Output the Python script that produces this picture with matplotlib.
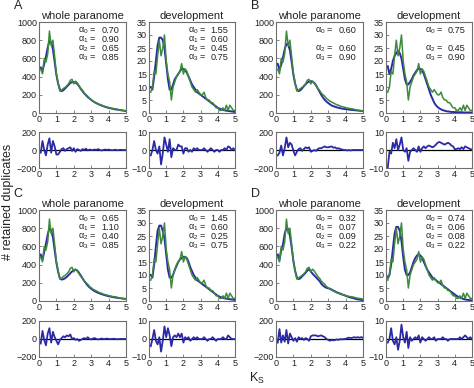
import numpy as np
import matplotlib
matplotlib.use("Agg")
import matplotlib.pyplot as plt

plt.rcParams['font.family'] = ['Liberation Sans', 'DejaVu Sans']
plt.rcParams['mathtext.fontset'] = 'custom'
plt.rcParams['mathtext.rm'] = 'Liberation Sans'
plt.rcParams['mathtext.it'] = 'Liberation Sans'

# --------------------------------------------------------------------------------------------------
# DATA (Ks bins 0.1 .. 5.0)
ks = np.round(np.arange(1, 51) * 0.1, 1)

# observed distributions (green), same in every panel
whole_obs = [480, 430, 600, 560, 650, 900, 740, 800, 620, 430,
             330, 240, 250, 270, 280, 300, 320, 360, 370, 320,
             350, 330, 300, 270, 250, 220, 200, 185, 160, 145,
             130, 120, 110, 100, 90, 85, 75, 70, 65, 60,
             55, 50, 48, 45, 40, 35, 30, 28, 25, 20]
dev_obs = [8, 10, 16, 15, 22, 28, 22, 25, 30, 20,
           15, 12, 5, 10, 12, 14, 15, 16, 19, 15,
           17, 16, 14, 12, 10, 9, 8, 9, 8, 7,
           7, 8, 6, 5, 5, 4, 4, 3, 2, 2,
           1, 1, 2, 1, 3, 1, 3, 2, 1, 1]

# model fits (blue)
whole_fit_A = [500, 460, 540, 620, 720, 790, 780, 700, 560, 420,
               320, 260, 240, 250, 270, 290, 310, 330, 340, 340,
               335, 320, 295, 265, 240, 215, 195, 175, 160, 145,
               130, 118, 108, 98, 90, 82, 75, 68, 62, 57,
               52, 48, 44, 40, 37, 34, 31, 28, 25, 22]
whole_fit_B = [540, 470, 530, 610, 700, 760, 750, 690, 560, 420,
               320, 260, 240, 250, 270, 295, 315, 335, 345, 350,
               345, 330, 305, 270, 235, 200, 170, 145, 125, 110,
               95, 82, 75, 68, 62, 57, 52, 48, 45, 42,
               40, 37, 35, 33, 31, 29, 27, 25, 23, 21]
whole_fit_C = [510, 450, 540, 630, 730, 800, 780, 700, 560, 420,
               320, 250, 235, 240, 250, 265, 285, 305, 325, 340,
               345, 335, 310, 280, 250, 220, 195, 170, 150, 135,
               120, 108, 98, 90, 82, 75, 69, 63, 58, 53,
               49, 45, 41, 38, 35, 32, 30, 27, 25, 22]
whole_fit_D = [510, 450, 560, 620, 740, 800, 790, 720, 590, 440,
               330, 260, 240, 250, 270, 290, 310, 335, 350, 325,
               300, 280, 260, 240, 220, 190, 170, 155, 145, 140,
               135, 125, 115, 105, 95, 88, 80, 72, 65, 58,
               50, 43, 38, 33, 28, 22, 18, 15, 12, 10]
dev_fit_A = [10, 9, 14, 20, 26, 29, 29, 28, 25, 19,
             13, 9, 9, 11, 13, 14, 15, 16, 17, 17,
             16.5, 15.5, 14, 12.5, 11, 10, 9, 8, 7.5, 7,
             6.5, 6, 5.5, 5, 4.5, 4, 3.5, 3, 2.5, 2,
             1.7, 1.4, 1.2, 1, 0.9, 0.8, 0.7, 0.6, 0.5, 0.4]
dev_fit_B = [18, 15, 17, 20, 22, 23, 24, 23, 21, 17,
             13, 11, 11, 12, 13, 14.5, 15.5, 16.5, 17, 17,
             16.5, 15, 13, 11, 9, 7, 5.5, 4, 3, 2.3,
             1.8, 1.4, 1.1, 0.9, 0.7, 0.6, 0.5, 0.4, 0.4, 0.3,
             0.3, 0.3, 0.3, 0.3, 0.2, 0.2, 0.2, 0.2, 0.2, 0.2]
dev_fit_C = [10, 9, 14, 21, 27, 29, 29, 27, 24, 18,
             12, 9, 9, 10, 12, 13.5, 15, 16, 16.5, 17,
             17, 16.5, 15, 13, 11.5, 10, 9, 8, 7.5, 7,
             6.5, 6, 5.5, 5, 4.5, 4, 3.5, 3, 2.5, 2,
             1.7, 1.4, 1.2, 1, 0.9, 0.8, 0.7, 0.6, 0.5, 0.4]
dev_fit_D = [9, 10, 14, 20, 26, 28.5, 28.5, 27, 23, 17,
             12, 10, 10, 11, 13, 15, 16.5, 17.5, 18, 17.5,
             16.5, 15, 13.5, 12, 11, 10, 9, 8.5, 8, 7.5,
             7, 6.5, 6, 5.5, 5, 4.5, 4, 3.5, 3, 2.5,
             2, 1.6, 1.3, 1, 0.8, 0.6, 0.5, 0.4, 0.3, 0.2]

# residuals (lower panels)
whole_res_A = [-30, 100, 0, -60, 60, 130, -30, 100, 40, -50,
               -50, -20, 10, 20, -10, 10, 20, 30, -10, 20,
               -20, 10, 0, -10, 10, 0, 15, -5, 5, 0,
               0, 5, 0, 10, 0, -5, 0, 5, 0, 5,
               0, -3, 0, 3, -3, 0, 2, 0, 0, 0]
whole_res_B = [-60, -30, 50, -60, 20, 140, 30, 80, 60, -10,
               -60, -20, 10, 20, -10, 10, 30, 20, 30, -20,
               -10, 0, -10, 10, 20, 20, 30, 40, 30, 30,
               35, 40, 25, 30, 15, 20, 10, 5, 0, 0,
               -5, 0, -5, 0, 0, 0, 0, 0, 0, 0]
whole_res_C = [-50, 90, -10, -70, 60, 120, -40, 80, 20, -20,
               -60, -10, 10, 30, 20, 40, 30, 50, 0, 10,
               -10, 0, -20, -10, 0, 10, 0, 20, 0, -5,
               5, 10, 0, -5, 0, 5, 0, 0, 5, 0,
               0, 0, 3, 0, -3, 0, 0, 0, 0, 0]
whole_res_D = [-40, 110, -40, 40, -30, 100, -50, 60, 20, -20,
               10, -30, 20, 0, 10, -10, 10, 0, -20, 30,
               40, 40, 40, 30, 35, 40, 30, 20, 0, -10,
               -20, -10, -15, -10, -5, -10, 0, -5, 0, 0,
               10, 15, 10, 15, 20, 15, 20, 15, 20, 15]
dev_res_A = [-3, 0, 5, 0, -2, 2, -8, -2, 7, 3,
             -1, 6, -4, 1, 0, 0, 3, 2, 2, -2,
             1, 1, -1, 0, -1, 1, 0, 1, 0, 0,
             0, 1, 0, -1, 0, 1, 0, -1, 0, 0,
             -1, 0, 0, 1, 0, 2, 1.5, 0, 1, 0]
dev_res_B = [-10, -1, -2, 4, 1, 6, 0, 3, 7, 0,
             -1, 1, -6, -1, 0, 1, 0, -1, 2, -1,
             1, 2, 1, 2, 2.5, 2, 1.5, 2, 3, 4,
             4.5, 4, 3.5, 3, 3.5, 4, 3.5, 2.5, 2, 0.5,
             0.5, 1, 0.5, 1.5, 0.5, 2, 1.5, 1, 0.5, 0.3]
dev_res_C = [-4, 0, 5, -1, -3, 1, -7, -1, 7, 1,
             6, 2, -4, 1, 2, 1, 3, 1, 3, -2,
             1, 0, 1, -1, 0, 1, 0, 1, 0, 0,
             0, 1, 0, -1, 0, 0, 1, 0, -1, 0,
             0, 0, 1, 0, 0, 2, 1, 0, 0, 0]
dev_res_D = [-2, 0, 6, -1, -3, 1, -6, -1, 8, 1,
             -2, 4, -5, 1, -1, 0, 1, 0, 2, -2,
             1, 0, -1, 0, 1, 0, 0, 1, -1, 0,
             0, 0, 1, 0, 0, -1, 0, 0, 0, 0,
             0, 0, 1, 0, 1, 2, 1, 0, 1, 0]

# fitted parameters shown in each main panel ('' = parameter not listed)
whole_alpha = {"A": ["0.70", "0.90", "0.65", "0.85"],
               "B": ["0.60", "", "0.60", "0.90"],
               "C": ["0.65", "1.10", "0.40", "0.85"],
               "D": ["0.32", "0.07", "0.09", "0.22"]}
dev_alpha = {"A": ["1.55", "0.60", "0.45", "0.75"],
             "B": ["0.75", "", "0.45", "0.90"],
             "C": ["1.45", "0.60", "0.25", "0.75"],
             "D": ["0.74", "0.06", "0.08", "0.22"]}

whole_fits = {"A": whole_fit_A, "B": whole_fit_B, "C": whole_fit_C, "D": whole_fit_D}
dev_fits = {"A": dev_fit_A, "B": dev_fit_B, "C": dev_fit_C, "D": dev_fit_D}
whole_res = {"A": whole_res_A, "B": whole_res_B, "C": whole_res_C, "D": whole_res_D}
dev_res = {"A": dev_res_A, "B": dev_res_B, "C": dev_res_C, "D": dev_res_D}

# --------------------------------------------------------------------------------------------------
# LAYOUT (pixel boxes of the 474x388 figure)
W, H = 474, 388
GREEN = "#3d8a3d"
BLUE = "#2a2aa6"
GREY = "#6e6e6e"
INK = "#222222"

fig = plt.figure(figsize=(W / 100, H / 100), dpi=100)


def box(x0, x1, y0, y1):
    return [x0 / W, 1 - y1 / H, (x1 - x0) / W, (y1 - y0) / H]


def style(ax):
    for s in ax.spines.values():
        s.set_color(GREY)
        s.set_linewidth(0.8)
    ax.tick_params(direction="in", length=2, width=0.6, color=GREY,
                   labelsize=6.5, pad=1.5, labelcolor=INK)
    ax.set_xlim(0, 5)
    ax.set_xticks(range(6))


panel_x = {"A": 39, "B": 276, "C": 39, "D": 276}
panel_y = {"A": (22, 113, 132, 168), "B": (22, 113, 132, 168),
           "C": (210, 301, 321, 357), "D": (210, 301, 321, 357)}
letter_pos = {"A": (18, 6), "B": (255, 6), "C": (18, 194), "D": (255, 194)}

for p in ["A", "B", "C", "D"]:
    x0 = panel_x[p]
    my0, my1, ry0, ry1 = panel_y[p]
    fig.text(letter_pos[p][0] / W, 1 - letter_pos[p][1] / H, p,
             fontsize=9, ha="center", va="center", color=INK)

    for k, (xa, xb) in enumerate([(x0, x0 + 87), (x0 + 110, x0 + 196)]):
        if k == 0:
            obs, fit, res, alph = whole_obs, whole_fits[p], whole_res[p], whole_alpha[p]
            ymax, ystep, rlim, title = 1000, 200, 200, "whole paranome"
        else:
            obs, fit, res, alph = dev_obs, dev_fits[p], dev_res[p], dev_alpha[p]
            ymax, ystep, rlim, title = 35, 5, 10, "development"

        # main panel
        ax = fig.add_axes(box(xa, xb, my0, my1))
        ax.plot(ks, fit, color=BLUE, lw=1.4)
        ax.plot(ks, obs, color=GREEN, lw=1.1)
        ax.set_ylim(0, ymax)
        ax.set_yticks(np.arange(0, ymax + 1, ystep))
        style(ax)
        ax.set_title(title, fontsize=8, pad=2, color=INK)
        for i, val in enumerate(alph):
            if val == "":
                continue
            yy = 0.905 - 0.10 * i
            ax.text(0.45, yy, r"$\alpha_%d$ =" % i, transform=ax.transAxes,
                    fontsize=6.6, ha="left", va="center", color=INK)
            ax.text(0.92, yy, val, transform=ax.transAxes,
                    fontsize=6.6, ha="right", va="center", color=INK)

        # residual panel
        rx = fig.add_axes(box(xa, xb, ry0, ry1))
        rx.axhline(0, color="black", lw=0.9)
        rx.plot(ks, res, color=BLUE, lw=1.3)
        rx.set_ylim(-rlim, rlim)
        rx.set_yticks([-rlim, 0, rlim])
        style(rx)

fig.text(0.016, 0.48, "# retained duplicates", rotation=90, fontsize=9,
         ha="center", va="center", color=INK)
fig.text(257 / W, 1 - 378 / H, r"K$_{\rm S}$", fontsize=9,
         ha="center", va="center", color=INK)

fig.savefig("out.png", dpi=100)
